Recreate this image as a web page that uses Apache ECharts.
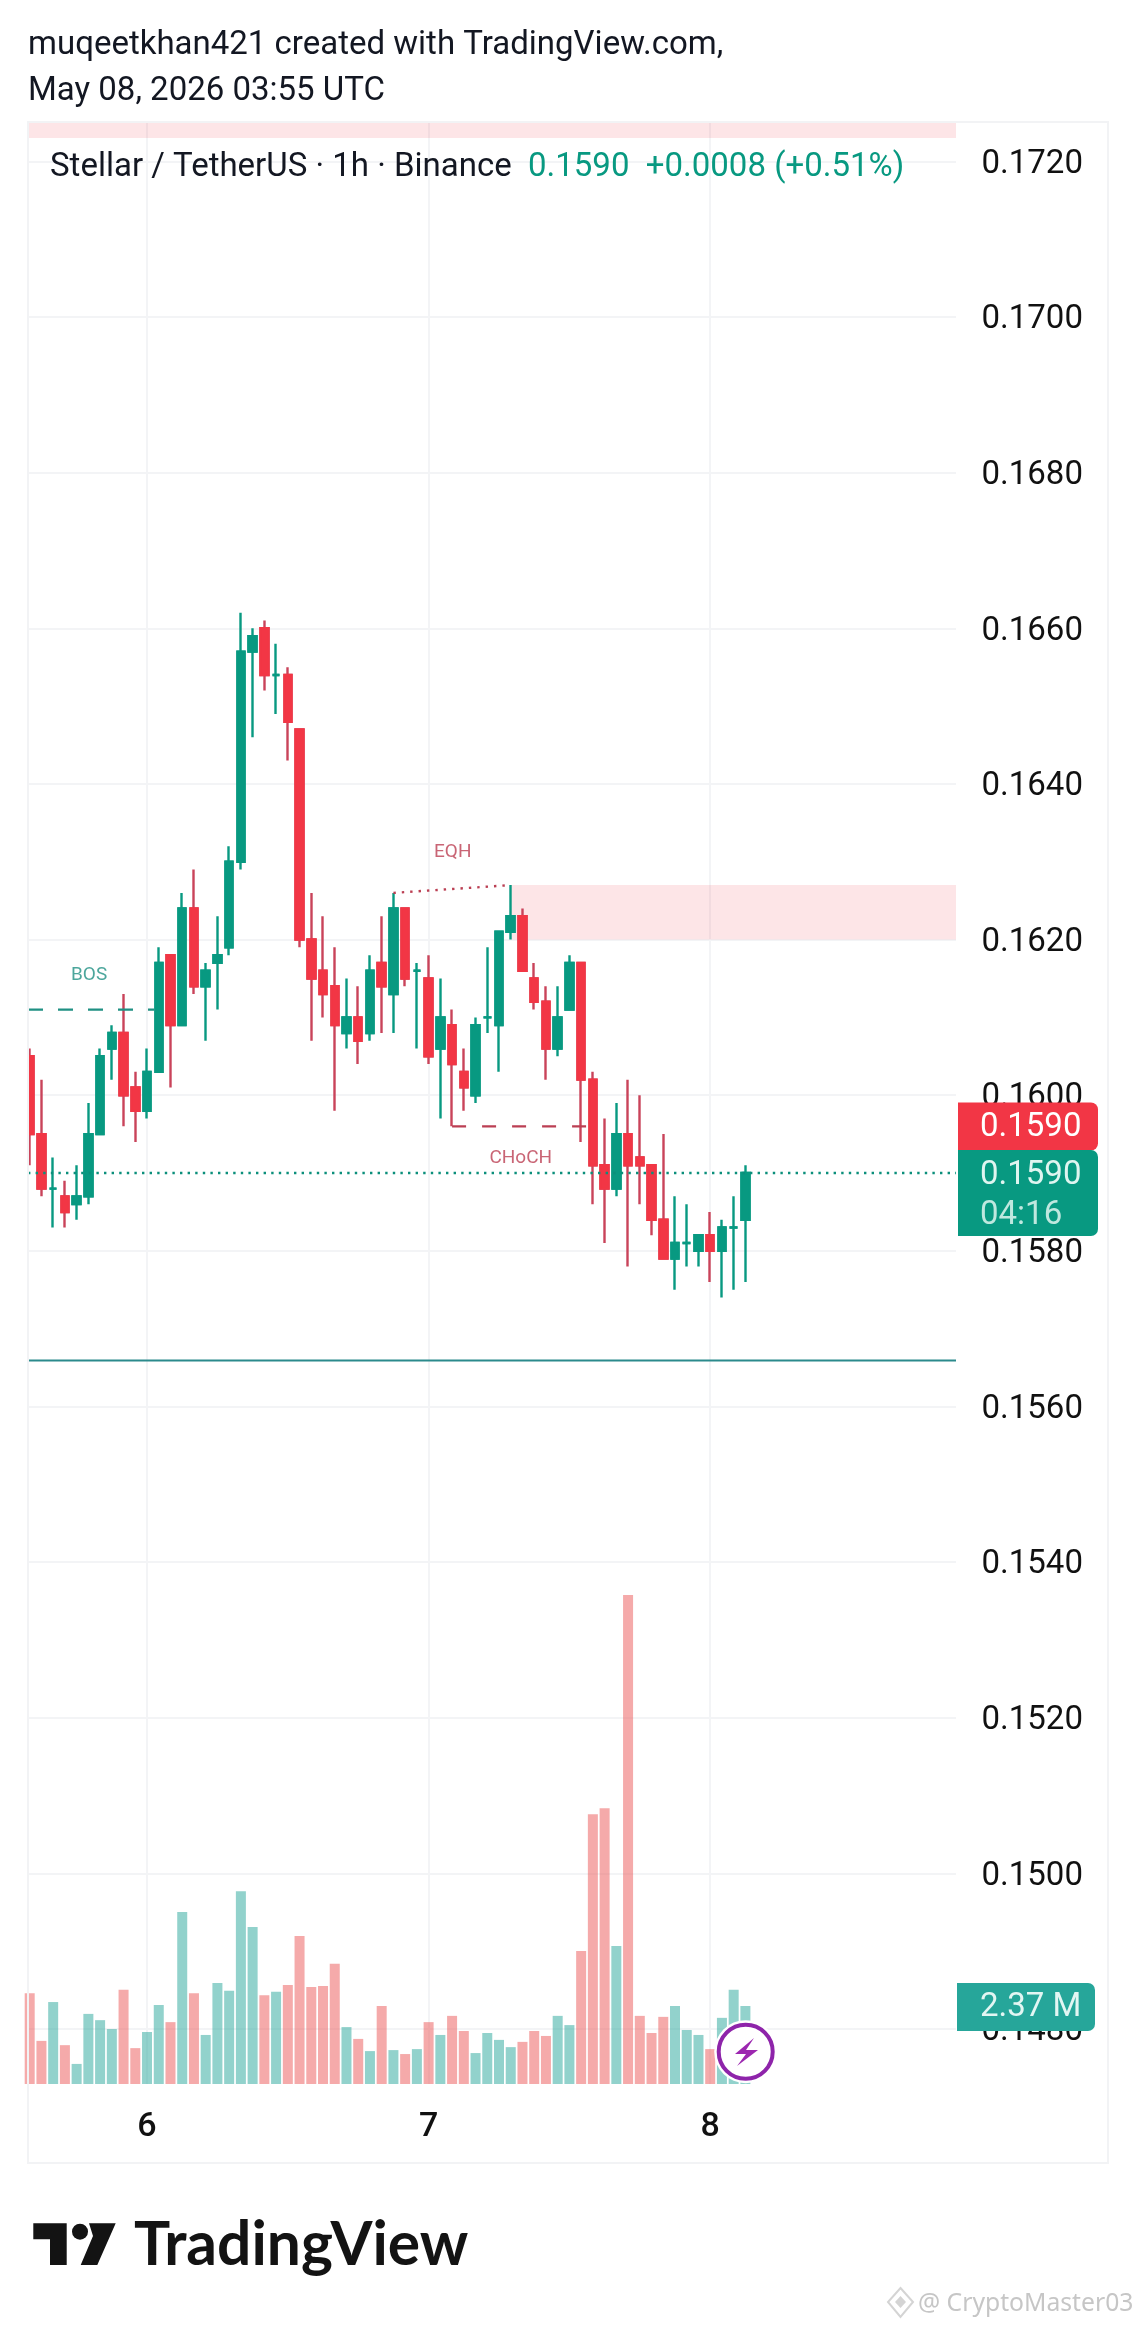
<!DOCTYPE html>
<html>
<head>
<meta charset="utf-8">
<style>html,body{margin:0;padding:0;background:#fff}#c{width:1137px;height:2328px}</style>
<script src="https://cdn.jsdelivr.net/npm/echarts@6/dist/echarts.min.js"></script>
</head>
<body>
<div id="c"></div>
<script>
// ---- data ----
const hourIndex = Array.from({length: 62}, (_, i) => i);
const opens  = [.1605,.1595,.1588,.1587,.1586,.1587,.1595,.1606,.1608,.1601,.1598,.1603,.1618,.1609,.1624,.1614,.1617,.1619,.1630,.1657,.1660,.1654,.1654,.1647,.1620,.1616,.1614,.1608,.1610,.1608,.1617,.1613,.1624,.1616,.1615,.1606,.1609,.1603,.1600,.1610,.1609,.1621,.1623,.1615,.1612,.1606,.1611,.1617,.1602,.1591,.1588,.1595,.1592,.1591,.1584,.1579,.1581,.1580,.1582,.1580,.1583,.1584];
const closes = [.1595,.1588,.1588,.1585,.1587,.1595,.1605,.1608,.1600,.1598,.1603,.1617,.1609,.1624,.1614,.1616,.1618,.1630,.1657,.1659,.1654,.1654,.1648,.1620,.1615,.1613,.1609,.1610,.1607,.1616,.1614,.1624,.1615,.1616,.1605,.1610,.1604,.1601,.1609,.1610,.1621,.1623,.1616,.1612,.1606,.1610,.1617,.1602,.1591,.1588,.1595,.1591,.1591,.1584,.1579,.1581,.1581,.1582,.1580,.1583,.1583,.1590];
const lows   = [.1591,.1587,.1583,.1583,.1584,.1586,.1595,.1602,.1596,.1594,.1597,.1603,.1601,.1609,.1613,.1607,.1611,.1618,.1629,.1646,.1652,.1649,.1643,.1619,.1607,.1610,.1598,.1606,.1604,.1607,.1608,.1608,.1614,.1606,.1604,.1597,.1596,.1598,.1599,.1608,.1603,.1620,.1616,.1611,.1602,.1605,.1611,.1594,.1586,.1581,.1587,.1578,.1586,.1582,.1579,.1575,.1578,.1578,.1576,.1574,.1575,.1576];
const highs  = [.1606,.1602,.1592,.1589,.1591,.1599,.1606,.1609,.1613,.1603,.1606,.1619,.1618,.1626,.1629,.1617,.1623,.1632,.1662,.1660,.1661,.1658,.1655,.1647,.1626,.1623,.1619,.1615,.1614,.1618,.1623,.1626,.1624,.1617,.1618,.1615,.1611,.1606,.1610,.1619,.1621,.1627,.1624,.1617,.1614,.1614,.1618,.1617,.1603,.1597,.1599,.1602,.1600,.1591,.1595,.1587,.1586,.1582,.1585,.1584,.1587,.1591];
const volumesM = [2.76,1.31,2.49,1.18,.61,2.13,1.94,1.67,2.86,1.09,1.58,2.40,1.88,5.23,2.76,1.49,3.07,2.83,5.86,4.77,2.70,2.80,3.01,4.50,2.95,2.98,3.65,1.73,1.37,1.00,2.37,1.03,.91,1.06,1.88,1.49,2.07,1.61,.94,1.55,1.34,1.12,1.28,1.61,1.46,2.07,1.79,4.04,8.20,8.38,4.19,14.86,2.07,1.55,2.04,2.37,1.64,1.49,1.06,2.01,2.86,2.37];
const dayTicks = [10, 34, 58];
const dayLabels = ['6', '7', '8'];
const bosLine = [[-0.145, .1611], [10.6, .1611]];
const eqhLine = [[31, .1626], [41, .1627]];
const chochLine = [[36, .1596], [47.5, .1596]];
const lastPrice = .1590;
const supportPrice = .15659;
const zoneTop = [.1627, .1620];
const stripTop = [.1725, .1723];
const headerLines = ['muqeetkhan421 created with TradingView.com,', 'May 08, 2026 03:55 UTC'];
const symbolText = 'Stellar / TetherUS · 1h · Binance';
const quoteText = '0.1590  +0.0008 (+0.51%)';
const volumeTag = '2.37 M';
const countdown = '04:16';
const lastTag = '0.1590';

// ---- chart ----
const UP = '#089981', DOWN = '#f23645', WICK_DOWN = '#c9435a', ANNOT_RED = '#bb3f53', ANNOT_TEAL = '#1f9083';
const GRID = '#f3f4f6';
const XMIN = -0.145, XMAX = 78.95;
const FONT = 'Roboto, sans-serif';
const chart = echarts.init(document.getElementById('c'), null, {renderer: 'canvas', width: 1137, height: 2328});

const candles = hourIndex.map(i => [i, opens[i], closes[i], lows[i], highs[i]]);
const candleBodies = hourIndex.map(i => [i, opens[i], closes[i], Math.min(opens[i], closes[i]), Math.max(opens[i], closes[i])]);
const volBars = hourIndex.map(i => ({
  value: [i, volumesM[i]],
  itemStyle: {color: closes[i] >= opens[i] ? 'rgba(38,166,154,.5)' : 'rgba(235,85,85,.5)'}
}));
const endX = XMAX;
function lineSeries(data, color, width, dash, z) {
  return {type: 'line', data, showSymbol: false, symbol: 'none', silent: true, z: z || 5, animation: false,
    lineStyle: {color, width, type: dash, cap: 'butt'}};
}
function textPoint(x, y, text, color) {
  return {type: 'scatter', data: [[x, y]], symbolSize: 0, silent: true, z: 6, animation: false,
    label: {show: true, position: 'inside', formatter: text, color, fontSize: 19, fontFamily: FONT}};
}
function t(x, y, text, font, fill, extra) {
  return Object.assign({type: 'text', z: 100, x, y, silent: true,
    style: {text, font, fill, textBaseline: 'middle', textVerticalAlign: 'middle'}}, extra || {});
}
function poly(points, fill, extra) {
  return Object.assign({type: 'polygon', z: 100, silent: true, shape: {points}, style: {fill}}, extra || {});
}

chart.setOption({
  animation: false,
  backgroundColor: '#ffffff',
  grid: [
    {left: 28, right: 181, top: 122.5, height: 1906.5},
    {left: 28, right: 181, top: 122.5, height: 1961.5}
  ],
  xAxis: [
    {type: 'value', gridIndex: 0, min: XMIN, max: XMAX, show: false, splitLine: {show: false}},
    {type: 'value', gridIndex: 1, min: XMIN, max: XMAX,
      axisLine: {show: false}, axisTick: {show: false, customValues: dayTicks},
      axisLabel: {customValues: dayTicks, margin: 26, color: '#111', fontSize: 34, fontWeight: 500, fontFamily: FONT,
        showMinLabel: true, showMaxLabel: true, formatter: v => dayLabels[dayTicks.indexOf(v)] || ''},
      splitLine: {show: true, lineStyle: {color: GRID, width: 2}}}
  ],
  yAxis: [
    {type: 'value', gridIndex: 0, position: 'right', min: .148, max: .1725, interval: .002,
      axisLine: {show: false}, axisTick: {show: false},
      axisLabel: {margin: 25.5, color: '#111', fontSize: 33, fontFamily: FONT, showMaxLabel: false, showMinLabel: true,
        verticalAlign: 'top', lineHeight: 6, formatter: v => v.toFixed(4), align: 'left'},
      splitLine: {show: true, showMaxLine: false, showMinLine: true, lineStyle: {color: GRID, width: 2}}},
    {type: 'value', gridIndex: 1, min: 0, max: 59.6, show: false, splitLine: {show: false}}
  ],
  series: [
    {type: 'bar', xAxisIndex: 1, yAxisIndex: 1, data: volBars, barWidth: 10, silent: true, z: 1, animation: false},
    {type: 'line', data: [], xAxisIndex: 0, yAxisIndex: 0, z: 1, silent: true, animation: false,
      markArea: {silent: true, itemStyle: {color: 'rgba(242,54,69,.13)'}, data: [
        [{coord: [41, zoneTop[0]]}, {coord: [endX, zoneTop[1]]}],
        [{coord: [XMIN, stripTop[0]]}, {coord: [endX, stripTop[1]]}]
      ]}},
    {type: 'candlestick', xAxisIndex: 0, yAxisIndex: 0, data: candles, barWidth: 8, z: 3, silent: true, animation: false,
      itemStyle: {color: UP, color0: DOWN, borderColor: UP, borderColor0: WICK_DOWN, borderColorDoji: UP, borderWidth: 2.4}},
    {type: 'candlestick', xAxisIndex: 0, yAxisIndex: 0, data: candleBodies, barWidth: 8, z: 3, silent: true, animation: false,
      itemStyle: {color: UP, color0: DOWN, borderColor: UP, borderColor0: DOWN, borderColorDoji: UP, borderWidth: 2.4}},
    lineSeries([[XMIN, lastPrice], [endX, lastPrice]], '#0b8f7b', 2.4, [2.4, 5.2]),
    lineSeries([[XMIN, supportPrice], [endX, supportPrice]], '#2b8a8c', 2, 'solid'),
    lineSeries(bosLine, ANNOT_TEAL, 2.4, [15, 15]),
    lineSeries(eqhLine, ANNOT_RED, 2.4, [2.4, 6]),
    lineSeries(chochLine, ANNOT_RED, 2.4, [14, 16]),
    textPoint(5.06, .16154, 'BOS', ANNOT_TEAL),
    textPoint(36.06, .16312, 'EQH', ANNOT_RED),
    textPoint(41.85, .15919, 'CHoCH', ANNOT_RED)
  ],
  graphic: {elements: [
    // hides the part of the first candle that lies left of the pane
    {type: 'rect', z: 50, silent: true, shape: {x: 0, y: 1000, width: 27, height: 260}, style: {fill: '#ffffff'}},
    {type: 'rect', z: 51, silent: true, shape: {x: 28, y: 122, width: 1080, height: 2041},
      style: {fill: 'none', stroke: '#f2f3f5', lineWidth: 2}},
    t(28, 46, headerLines[0], '33px ' + FONT, '#131722'),
    t(28, 92, headerLines[1], '33px ' + FONT, '#131722'),
    t(50, 168, symbolText, '33px ' + FONT, '#131722'),
    t(528, 168, quoteText, '33px ' + FONT, UP),
    // price and volume badges
    {type: 'rect', z: 100, silent: true, shape: {x: 958, y: 1102.5, width: 140, height: 48, r: [0, 7, 7, 0]}, style: {fill: DOWN}},
    t(980, 1128, lastTag, '33px ' + FONT, '#ffffff'),
    {type: 'rect', z: 101, silent: true, shape: {x: 958, y: 1150, width: 140, height: 86, r: [0, 7, 7, 0]}, style: {fill: UP}},
    t(980, 1176, lastTag, '33px ' + FONT, '#dff5f0', {z: 102}),
    t(980, 1216, countdown, '33px ' + FONT, '#bfe8df', {z: 102}),
    {type: 'rect', z: 100, silent: true, shape: {x: 957, y: 1983, width: 138, height: 48, r: [0, 7, 7, 0]}, style: {fill: '#26a69a'}},
    t(980, 2008, volumeTag, '33px ' + FONT, '#e3f6f3'),
    // bolt badge
    {type: 'circle', z: 100, silent: true, shape: {cx: 745.7, cy: 2051.7, r: 31.5}, style: {fill: '#ffffff'}},
    {type: 'circle', z: 101, silent: true, shape: {cx: 745.7, cy: 2051.7, r: 27}, style: {fill: '#ffffff', stroke: '#8e24aa', lineWidth: 4}},
    poly([[754, 2038], [735, 2054], [746, 2054], [737, 2066], [758, 2050], [746, 2050]], '#9c27b0', {z: 102}),
    // TradingView logo
    poly([[33.3, 2223.3], [66.7, 2223.3], [66.7, 2265], [50, 2265], [50, 2239.3], [33.3, 2239.3]], '#131313'),
    {type: 'circle', z: 100, silent: true, shape: {cx: 80, cy: 2231.7, r: 8}, style: {fill: '#131313'}},
    poly([[89, 2223.3], [115.7, 2223.3], [97.3, 2265], [80.7, 2265], [93, 2236]], '#131313'),
    t(134, 2245, 'TradingView', '700 60.5px Lato, sans-serif', '#131313'),
    // watermark
    {type: 'polygon', z: 100, silent: true, shape: {points: [[900.5, 2288], [913, 2302], [900.5, 2317], [888, 2302]]}, style: {fill: 'none', stroke: '#d4d4d4', lineWidth: 2}},
    poly([[900.5, 2296], [906, 2302], [900.5, 2308], [895, 2302]], '#d4d4d4'),
    t(918, 2304, '@ CryptoMaster03', '24.7px "Noto Sans", sans-serif', '#c6c6c6')
  ]}
});
</script>
</body>
</html>
